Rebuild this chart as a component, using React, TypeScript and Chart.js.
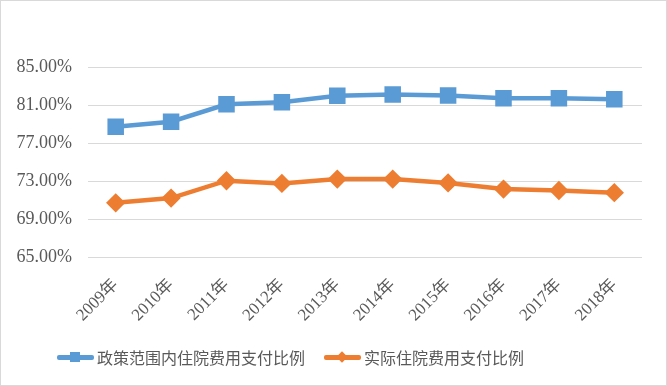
import React, { useEffect, useRef } from "react";
import { Chart, registerables } from "chart.js";

Chart.register(...registerables);

const categories = ["2009年", "2010年", "2011年", "2012年", "2013年", "2014年", "2015年", "2016年", "2017年", "2018年"];
const policyRatio = [78.7, 79.24, 81.07, 81.3, 81.98, 82.1, 82.0, 81.7, 81.7, 81.6];
const actualRatio = [70.7, 71.2, 73.03, 72.75, 73.2, 73.2, 72.8, 72.15, 72.0, 71.77];
const seriesNames = ["政策范围内住院费用支付比例", "实际住院费用支付比例"];
const yMin = 65;
const yMax = 85;
const yStep = 4;

const BLUE = "#5B9BD5";
const ORANGE = "#ED7D31";
const FONT = "'Liberation Serif', 'Noto Sans CJK SC', serif";

export default function App() {
  const ref = useRef<HTMLCanvasElement | null>(null);

  useEffect(() => {
    if (!ref.current) return;
    const chart = new Chart(ref.current, {
      type: "line",
      data: {
        labels: categories,
        datasets: [
          {
            label: seriesNames[0],
            data: policyRatio,
            borderColor: BLUE,
            backgroundColor: BLUE,
            borderWidth: 4.5,
            pointStyle: "rect",
            pointRadius: 8.5,
            pointHoverRadius: 8.5,
            tension: 0,
          },
          {
            label: seriesNames[1],
            data: actualRatio,
            borderColor: ORANGE,
            backgroundColor: ORANGE,
            borderWidth: 4.5,
            pointStyle: "rectRot",
            pointRadius: 6.5,
            pointHoverRadius: 6.5,
            tension: 0,
          },
        ],
      },
      options: {
        animation: false,
        responsive: false,
        maintainAspectRatio: false,
        layout: { padding: { top: 67, right: 25, bottom: 49, left: 0 } },
        plugins: {
          legend: { display: false },
          tooltip: { enabled: false },
        },
        scales: {
          x: {
            offset: true,
            grid: { display: false, drawTicks: false },
            border: { display: false },
            ticks: {
              minRotation: 45,
              maxRotation: 45,
              color: "#595959",
              font: { family: FONT, size: 17 },
              padding: 18,
            },
            afterFit: (s: any) => {
              s.height = 80;
            },
          },
          y: {
            min: yMin,
            max: yMax,
            grid: { color: "#d9d9d9", lineWidth: 1, drawTicks: false },
            border: { display: false },
            ticks: {
              stepSize: yStep,
              color: "#595959",
              font: { family: FONT, size: 18 },
              padding: 16,
              callback: (v: any) => Number(v).toFixed(2) + "%",
            },
            afterFit: (s: any) => {
              s.width = 88;
            },
          },
        },
      },
    });
    return () => chart.destroy();
  }, []);

  const legendItem = (color: string, marker: "square" | "diamond", text: string, left: number) => (
    <div
      style={{
        position: "absolute",
        left,
        top: 345,
        height: 24,
        display: "flex",
        alignItems: "center",
      }}
    >
      <div style={{ position: "relative", width: 37, height: 24 }}>
        <div
          style={{
            position: "absolute",
            left: 0,
            top: 10,
            width: 37,
            height: 4.5,
            background: color,
            borderRadius: 2,
          }}
        />
        {marker === "square" ? (
          <div style={{ position: "absolute", left: 13, top: 7, width: 10, height: 10, background: color }} />
        ) : (
          <div
            style={{
              position: "absolute",
              left: 14,
              top: 8,
              width: 8,
              height: 8,
              background: color,
              transform: "rotate(45deg)",
            }}
          />
        )}
      </div>
      <span
        style={{
          marginLeft: 3,
          fontFamily: FONT,
          fontSize: 16,
          color: "#595959",
          whiteSpace: "nowrap",
        }}
      >
        {text}
      </span>
    </div>
  );

  return (
    <div
      style={{
        position: "fixed",
        left: 0,
        top: 0,
        width: 667,
        height: 386,
        background: "#fff",
      }}
    >
      <canvas ref={ref} width={667} height={386} style={{ position: "absolute", left: 0, top: 0, width: 667, height: 386 }} />
      {legendItem(BLUE, "square", seriesNames[0], 57)}
      {legendItem(ORANGE, "diamond", seriesNames[1], 324)}
      <div
        style={{
          position: "absolute",
          left: 0,
          top: 0,
          width: 667,
          height: 386,
          boxSizing: "border-box",
          border: "1px solid #d9d9d9",
          pointerEvents: "none",
        }}
      />
    </div>
  );
}
